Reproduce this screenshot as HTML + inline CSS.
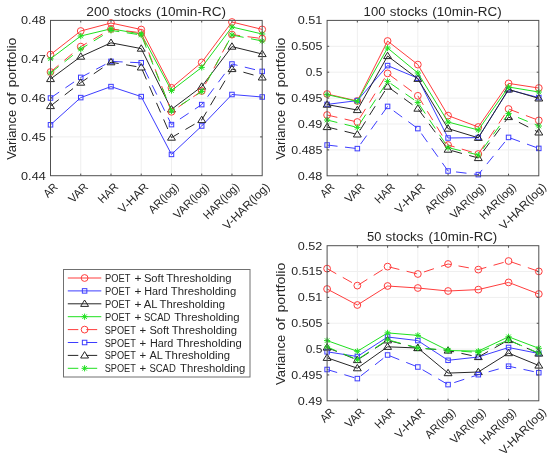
<!DOCTYPE html>
<html><head><meta charset="utf-8"><style>
html,body{margin:0;padding:0;background:#fff;}
svg{display:block;}
</style></head><body>
<svg width="550" height="459" viewBox="0 0 550 459">
<rect width="550" height="459" fill="#fff"/>
<g>
<path d="M80.74 20.4V175.7M110.99 20.4V175.7M141.23 20.4V175.7M171.47 20.4V175.7M201.71 20.4V175.7M231.96 20.4V175.7M50.5 136.88H262.2M50.5 98.05H262.2M50.5 59.22H262.2" stroke="#efefef" stroke-width="1" fill="none"/>
<path d="M50.5 54.6L80.74 31L110.99 23L141.23 29.5L171.47 87.8L201.71 62.4L231.96 22L262.2 29.4" fill="none" stroke="#ff3d3d"/>
<circle cx="50.5" cy="54.6" r="3.4" fill="none" stroke="#ff3d3d"/>
<circle cx="80.74" cy="31" r="3.4" fill="none" stroke="#ff3d3d"/>
<circle cx="110.99" cy="23" r="3.4" fill="none" stroke="#ff3d3d"/>
<circle cx="141.23" cy="29.5" r="3.4" fill="none" stroke="#ff3d3d"/>
<circle cx="171.47" cy="87.8" r="3.4" fill="none" stroke="#ff3d3d"/>
<circle cx="201.71" cy="62.4" r="3.4" fill="none" stroke="#ff3d3d"/>
<circle cx="231.96" cy="22" r="3.4" fill="none" stroke="#ff3d3d"/>
<circle cx="262.2" cy="29.4" r="3.4" fill="none" stroke="#ff3d3d"/>
<path d="M50.5 124.8L80.74 97.6L110.99 86.6L141.23 96.6L171.47 154.4L201.71 126L231.96 94.5L262.2 97" fill="none" stroke="#3d3dff"/>
<rect x="48.25" y="122.55" width="4.5" height="4.5" fill="none" stroke="#3d3dff"/>
<rect x="78.49" y="95.35" width="4.5" height="4.5" fill="none" stroke="#3d3dff"/>
<rect x="108.74" y="84.35" width="4.5" height="4.5" fill="none" stroke="#3d3dff"/>
<rect x="138.98" y="94.35" width="4.5" height="4.5" fill="none" stroke="#3d3dff"/>
<rect x="169.22" y="152.15" width="4.5" height="4.5" fill="none" stroke="#3d3dff"/>
<rect x="199.46" y="123.75" width="4.5" height="4.5" fill="none" stroke="#3d3dff"/>
<rect x="229.71" y="92.25" width="4.5" height="4.5" fill="none" stroke="#3d3dff"/>
<rect x="259.95" y="94.75" width="4.5" height="4.5" fill="none" stroke="#3d3dff"/>
<path d="M50.5 79L80.74 56.6L110.99 42.8L141.23 48.6L171.47 109.4L201.71 86.6L231.96 46.6L262.2 54" fill="none" stroke="#262626"/>
<path d="M50.5 75.2L54.45 81.6H46.55Z" fill="none" stroke="#262626"/>
<path d="M80.74 52.8L84.69 59.2H76.79Z" fill="none" stroke="#262626"/>
<path d="M110.99 39L114.94 45.4H107.04Z" fill="none" stroke="#262626"/>
<path d="M141.23 44.8L145.18 51.2H137.28Z" fill="none" stroke="#262626"/>
<path d="M171.47 105.6L175.42 112H167.52Z" fill="none" stroke="#262626"/>
<path d="M201.71 82.8L205.66 89.2H197.76Z" fill="none" stroke="#262626"/>
<path d="M231.96 42.8L235.91 49.2H228.01Z" fill="none" stroke="#262626"/>
<path d="M262.2 50.2L266.15 56.6H258.25Z" fill="none" stroke="#262626"/>
<path d="M50.5 58.8L80.74 36L110.99 28.8L141.23 34L171.47 90.6L201.71 67.4L231.96 27L262.2 34" fill="none" stroke="#1fe01f"/>
<path d="M47.4 58.8H53.6M50.5 55.7V61.9M48.25 56.55L52.75 61.05M48.25 61.05L52.75 56.55" fill="none" stroke="#1fe01f"/>
<path d="M77.64 36H83.84M80.74 32.9V39.1M78.49 33.75L82.99 38.25M78.49 38.25L82.99 33.75" fill="none" stroke="#1fe01f"/>
<path d="M107.89 28.8H114.09M110.99 25.7V31.9M108.74 26.55L113.24 31.05M108.74 31.05L113.24 26.55" fill="none" stroke="#1fe01f"/>
<path d="M138.13 34H144.33M141.23 30.9V37.1M138.98 31.75L143.48 36.25M138.98 36.25L143.48 31.75" fill="none" stroke="#1fe01f"/>
<path d="M168.37 90.6H174.57M171.47 87.5V93.7M169.22 88.35L173.72 92.85M169.22 92.85L173.72 88.35" fill="none" stroke="#1fe01f"/>
<path d="M198.61 67.4H204.81M201.71 64.3V70.5M199.46 65.15L203.96 69.65M199.46 69.65L203.96 65.15" fill="none" stroke="#1fe01f"/>
<path d="M228.86 27H235.06M231.96 23.9V30.1M229.71 24.75L234.21 29.25M229.71 29.25L234.21 24.75" fill="none" stroke="#1fe01f"/>
<path d="M259.1 34H265.3M262.2 30.9V37.1M259.95 31.75L264.45 36.25M259.95 36.25L264.45 31.75" fill="none" stroke="#1fe01f"/>
<path d="M50.5 72L80.74 46.6L110.99 29L141.23 32.8L171.47 111.8L201.71 91L231.96 34.6L262.2 38.6" fill="none" stroke="#ff3d3d" stroke-dasharray="10.5 7.5"/>
<circle cx="50.5" cy="72" r="3.4" fill="none" stroke="#ff3d3d"/>
<circle cx="80.74" cy="46.6" r="3.4" fill="none" stroke="#ff3d3d"/>
<circle cx="110.99" cy="29" r="3.4" fill="none" stroke="#ff3d3d"/>
<circle cx="141.23" cy="32.8" r="3.4" fill="none" stroke="#ff3d3d"/>
<circle cx="171.47" cy="111.8" r="3.4" fill="none" stroke="#ff3d3d"/>
<circle cx="201.71" cy="91" r="3.4" fill="none" stroke="#ff3d3d"/>
<circle cx="231.96" cy="34.6" r="3.4" fill="none" stroke="#ff3d3d"/>
<circle cx="262.2" cy="38.6" r="3.4" fill="none" stroke="#ff3d3d"/>
<path d="M50.5 98L80.74 77.4L110.99 61.4L141.23 62.8L171.47 124.6L201.71 104.6L231.96 64L262.2 71.4" fill="none" stroke="#3d3dff" stroke-dasharray="10.5 7.5"/>
<rect x="48.25" y="95.75" width="4.5" height="4.5" fill="none" stroke="#3d3dff"/>
<rect x="78.49" y="75.15" width="4.5" height="4.5" fill="none" stroke="#3d3dff"/>
<rect x="108.74" y="59.15" width="4.5" height="4.5" fill="none" stroke="#3d3dff"/>
<rect x="138.98" y="60.55" width="4.5" height="4.5" fill="none" stroke="#3d3dff"/>
<rect x="169.22" y="122.35" width="4.5" height="4.5" fill="none" stroke="#3d3dff"/>
<rect x="199.46" y="102.35" width="4.5" height="4.5" fill="none" stroke="#3d3dff"/>
<rect x="229.71" y="61.75" width="4.5" height="4.5" fill="none" stroke="#3d3dff"/>
<rect x="259.95" y="69.15" width="4.5" height="4.5" fill="none" stroke="#3d3dff"/>
<path d="M50.5 106L80.74 82.6L110.99 62.2L141.23 67.4L171.47 137.6L201.71 120L231.96 69L262.2 77.4" fill="none" stroke="#262626" stroke-dasharray="10.5 7.5"/>
<path d="M50.5 102.2L54.45 108.6H46.55Z" fill="none" stroke="#262626"/>
<path d="M80.74 78.8L84.69 85.2H76.79Z" fill="none" stroke="#262626"/>
<path d="M110.99 58.4L114.94 64.8H107.04Z" fill="none" stroke="#262626"/>
<path d="M141.23 63.6L145.18 70H137.28Z" fill="none" stroke="#262626"/>
<path d="M171.47 133.8L175.42 140.2H167.52Z" fill="none" stroke="#262626"/>
<path d="M201.71 116.2L205.66 122.6H197.76Z" fill="none" stroke="#262626"/>
<path d="M231.96 65.2L235.91 71.6H228.01Z" fill="none" stroke="#262626"/>
<path d="M262.2 73.6L266.15 80H258.25Z" fill="none" stroke="#262626"/>
<path d="M50.5 73L80.74 49L110.99 30.4L141.23 35L171.47 111L201.71 91.6L231.96 35L262.2 41" fill="none" stroke="#1fe01f" stroke-dasharray="10.5 7.5"/>
<path d="M47.4 73H53.6M50.5 69.9V76.1M48.25 70.75L52.75 75.25M48.25 75.25L52.75 70.75" fill="none" stroke="#1fe01f"/>
<path d="M77.64 49H83.84M80.74 45.9V52.1M78.49 46.75L82.99 51.25M78.49 51.25L82.99 46.75" fill="none" stroke="#1fe01f"/>
<path d="M107.89 30.4H114.09M110.99 27.3V33.5M108.74 28.15L113.24 32.65M108.74 32.65L113.24 28.15" fill="none" stroke="#1fe01f"/>
<path d="M138.13 35H144.33M141.23 31.9V38.1M138.98 32.75L143.48 37.25M138.98 37.25L143.48 32.75" fill="none" stroke="#1fe01f"/>
<path d="M168.37 111H174.57M171.47 107.9V114.1M169.22 108.75L173.72 113.25M169.22 113.25L173.72 108.75" fill="none" stroke="#1fe01f"/>
<path d="M198.61 91.6H204.81M201.71 88.5V94.7M199.46 89.35L203.96 93.85M199.46 93.85L203.96 89.35" fill="none" stroke="#1fe01f"/>
<path d="M228.86 35H235.06M231.96 31.9V38.1M229.71 32.75L234.21 37.25M229.71 37.25L234.21 32.75" fill="none" stroke="#1fe01f"/>
<path d="M259.1 41H265.3M262.2 37.9V44.1M259.95 38.75L264.45 43.25M259.95 43.25L264.45 38.75" fill="none" stroke="#1fe01f"/>
<path d="M80.74 175.7v-2.1M80.74 20.4v2.1M110.99 175.7v-2.1M110.99 20.4v2.1M141.23 175.7v-2.1M141.23 20.4v2.1M171.47 175.7v-2.1M171.47 20.4v2.1M201.71 175.7v-2.1M201.71 20.4v2.1M231.96 175.7v-2.1M231.96 20.4v2.1M50.5 136.88h2.1M262.2 136.88h-2.1M50.5 98.05h2.1M262.2 98.05h-2.1M50.5 59.22h2.1M262.2 59.22h-2.1" stroke="#505050" fill="none"/>
<rect x="50.5" y="20.4" width="211.7" height="155.3" fill="none" stroke="#505050"/>
<text x="45.7" y="179.5" text-anchor="end" font-size="10.5" textLength="24.6" lengthAdjust="spacingAndGlyphs" fill="#262626" font-family="Liberation Sans, Arial, sans-serif">0.44</text>
<text x="45.7" y="140.68" text-anchor="end" font-size="10.5" textLength="24.6" lengthAdjust="spacingAndGlyphs" fill="#262626" font-family="Liberation Sans, Arial, sans-serif">0.45</text>
<text x="45.7" y="101.85" text-anchor="end" font-size="10.5" textLength="24.6" lengthAdjust="spacingAndGlyphs" fill="#262626" font-family="Liberation Sans, Arial, sans-serif">0.46</text>
<text x="45.7" y="63.02" text-anchor="end" font-size="10.5" textLength="24.6" lengthAdjust="spacingAndGlyphs" fill="#262626" font-family="Liberation Sans, Arial, sans-serif">0.47</text>
<text x="45.7" y="24.2" text-anchor="end" font-size="10.5" textLength="24.6" lengthAdjust="spacingAndGlyphs" fill="#262626" font-family="Liberation Sans, Arial, sans-serif">0.48</text>
<text transform="translate(58.5,187.7) rotate(-45)" text-anchor="end" font-size="11.5" textLength="14.8" lengthAdjust="spacingAndGlyphs" fill="#262626" font-family="Liberation Sans, Arial, sans-serif">AR</text>
<text transform="translate(88.74,187.7) rotate(-45)" text-anchor="end" font-size="11.5" textLength="22.3" lengthAdjust="spacingAndGlyphs" fill="#262626" font-family="Liberation Sans, Arial, sans-serif">VAR</text>
<text transform="translate(118.99,187.7) rotate(-45)" text-anchor="end" font-size="11.5" textLength="23.2" lengthAdjust="spacingAndGlyphs" fill="#262626" font-family="Liberation Sans, Arial, sans-serif">HAR</text>
<text transform="translate(149.23,187.7) rotate(-45)" text-anchor="end" font-size="11.5" textLength="37.3" lengthAdjust="spacingAndGlyphs" fill="#262626" font-family="Liberation Sans, Arial, sans-serif">V-HAR</text>
<text transform="translate(179.47,187.7) rotate(-45)" text-anchor="end" font-size="11.5" textLength="37.5" lengthAdjust="spacingAndGlyphs" fill="#262626" font-family="Liberation Sans, Arial, sans-serif">AR(log)</text>
<text transform="translate(209.71,187.7) rotate(-45)" text-anchor="end" font-size="11.5" textLength="44.8" lengthAdjust="spacingAndGlyphs" fill="#262626" font-family="Liberation Sans, Arial, sans-serif">VAR(log)</text>
<text transform="translate(239.96,187.7) rotate(-45)" text-anchor="end" font-size="11.5" textLength="45.6" lengthAdjust="spacingAndGlyphs" fill="#262626" font-family="Liberation Sans, Arial, sans-serif">HAR(log)</text>
<text transform="translate(270.2,187.7) rotate(-45)" text-anchor="end" font-size="11.5" textLength="60.5" lengthAdjust="spacingAndGlyphs" fill="#262626" font-family="Liberation Sans, Arial, sans-serif">V-HAR(log)</text>
<text y="16" font-size="12" fill="#262626" font-family="Liberation Sans, Arial, sans-serif"><tspan x="86.3" textLength="23.1" lengthAdjust="spacingAndGlyphs">200</tspan> <tspan x="113.8" textLength="37.5" lengthAdjust="spacingAndGlyphs">stocks</tspan> <tspan x="156" textLength="70" lengthAdjust="spacingAndGlyphs">(10min-RC)</tspan></text>
<text transform="translate(16,159.8) rotate(-90)" font-size="12" fill="#262626" font-family="Liberation Sans, Arial, sans-serif"><tspan x="0" textLength="50" lengthAdjust="spacingAndGlyphs">Variance</tspan> <tspan x="54.7" textLength="12.4" lengthAdjust="spacingAndGlyphs">of</tspan> <tspan x="72.3" textLength="49.9" lengthAdjust="spacingAndGlyphs">portfolio</tspan></text>
<path d="M357.34 20.4V175.8M387.59 20.4V175.8M417.83 20.4V175.8M448.07 20.4V175.8M478.31 20.4V175.8M508.56 20.4V175.8M327.1 149.9H538.8M327.1 124H538.8M327.1 98.1H538.8M327.1 72.2H538.8M327.1 46.3H538.8" stroke="#efefef" stroke-width="1" fill="none"/>
<path d="M327.1 94L357.34 101L387.59 41L417.83 64.6L448.07 115.6L478.31 127L508.56 83.4L538.8 88" fill="none" stroke="#ff3d3d"/>
<circle cx="327.1" cy="94" r="3.4" fill="none" stroke="#ff3d3d"/>
<circle cx="357.34" cy="101" r="3.4" fill="none" stroke="#ff3d3d"/>
<circle cx="387.59" cy="41" r="3.4" fill="none" stroke="#ff3d3d"/>
<circle cx="417.83" cy="64.6" r="3.4" fill="none" stroke="#ff3d3d"/>
<circle cx="448.07" cy="115.6" r="3.4" fill="none" stroke="#ff3d3d"/>
<circle cx="478.31" cy="127" r="3.4" fill="none" stroke="#ff3d3d"/>
<circle cx="508.56" cy="83.4" r="3.4" fill="none" stroke="#ff3d3d"/>
<circle cx="538.8" cy="88" r="3.4" fill="none" stroke="#ff3d3d"/>
<path d="M327.1 104.4L357.34 100.6L387.59 65.6L417.83 78.2L448.07 138L478.31 137.6L508.56 89.8L538.8 97.6" fill="none" stroke="#3d3dff"/>
<rect x="324.85" y="102.15" width="4.5" height="4.5" fill="none" stroke="#3d3dff"/>
<rect x="355.09" y="98.35" width="4.5" height="4.5" fill="none" stroke="#3d3dff"/>
<rect x="385.34" y="63.35" width="4.5" height="4.5" fill="none" stroke="#3d3dff"/>
<rect x="415.58" y="75.95" width="4.5" height="4.5" fill="none" stroke="#3d3dff"/>
<rect x="445.82" y="135.75" width="4.5" height="4.5" fill="none" stroke="#3d3dff"/>
<rect x="476.06" y="135.35" width="4.5" height="4.5" fill="none" stroke="#3d3dff"/>
<rect x="506.31" y="87.55" width="4.5" height="4.5" fill="none" stroke="#3d3dff"/>
<rect x="536.55" y="95.35" width="4.5" height="4.5" fill="none" stroke="#3d3dff"/>
<path d="M327.1 104.6L357.34 110L387.59 56L417.83 78.8L448.07 128.6L478.31 137.8L508.56 89.4L538.8 98.4" fill="none" stroke="#262626"/>
<path d="M327.1 100.8L331.05 107.2H323.15Z" fill="none" stroke="#262626"/>
<path d="M357.34 106.2L361.29 112.6H353.39Z" fill="none" stroke="#262626"/>
<path d="M387.59 52.2L391.54 58.6H383.64Z" fill="none" stroke="#262626"/>
<path d="M417.83 75L421.78 81.4H413.88Z" fill="none" stroke="#262626"/>
<path d="M448.07 124.8L452.02 131.2H444.12Z" fill="none" stroke="#262626"/>
<path d="M478.31 134L482.26 140.4H474.36Z" fill="none" stroke="#262626"/>
<path d="M508.56 85.6L512.51 92H504.61Z" fill="none" stroke="#262626"/>
<path d="M538.8 94.6L542.75 101H534.85Z" fill="none" stroke="#262626"/>
<path d="M327.1 94.6L357.34 101.4L387.59 48L417.83 73L448.07 122L478.31 130L508.56 87L538.8 92" fill="none" stroke="#1fe01f"/>
<path d="M324 94.6H330.2M327.1 91.5V97.7M324.85 92.35L329.35 96.85M324.85 96.85L329.35 92.35" fill="none" stroke="#1fe01f"/>
<path d="M354.24 101.4H360.44M357.34 98.3V104.5M355.09 99.15L359.59 103.65M355.09 103.65L359.59 99.15" fill="none" stroke="#1fe01f"/>
<path d="M384.49 48H390.69M387.59 44.9V51.1M385.34 45.75L389.84 50.25M385.34 50.25L389.84 45.75" fill="none" stroke="#1fe01f"/>
<path d="M414.73 73H420.93M417.83 69.9V76.1M415.58 70.75L420.08 75.25M415.58 75.25L420.08 70.75" fill="none" stroke="#1fe01f"/>
<path d="M444.97 122H451.17M448.07 118.9V125.1M445.82 119.75L450.32 124.25M445.82 124.25L450.32 119.75" fill="none" stroke="#1fe01f"/>
<path d="M475.21 130H481.41M478.31 126.9V133.1M476.06 127.75L480.56 132.25M476.06 132.25L480.56 127.75" fill="none" stroke="#1fe01f"/>
<path d="M505.46 87H511.66M508.56 83.9V90.1M506.31 84.75L510.81 89.25M506.31 89.25L510.81 84.75" fill="none" stroke="#1fe01f"/>
<path d="M535.7 92H541.9M538.8 88.9V95.1M536.55 89.75L541.05 94.25M536.55 94.25L541.05 89.75" fill="none" stroke="#1fe01f"/>
<path d="M327.1 115L357.34 122L387.59 73.4L417.83 95.8L448.07 145L478.31 154L508.56 109L538.8 120.4" fill="none" stroke="#ff3d3d" stroke-dasharray="10.5 7.5"/>
<circle cx="327.1" cy="115" r="3.4" fill="none" stroke="#ff3d3d"/>
<circle cx="357.34" cy="122" r="3.4" fill="none" stroke="#ff3d3d"/>
<circle cx="387.59" cy="73.4" r="3.4" fill="none" stroke="#ff3d3d"/>
<circle cx="417.83" cy="95.8" r="3.4" fill="none" stroke="#ff3d3d"/>
<circle cx="448.07" cy="145" r="3.4" fill="none" stroke="#ff3d3d"/>
<circle cx="478.31" cy="154" r="3.4" fill="none" stroke="#ff3d3d"/>
<circle cx="508.56" cy="109" r="3.4" fill="none" stroke="#ff3d3d"/>
<circle cx="538.8" cy="120.4" r="3.4" fill="none" stroke="#ff3d3d"/>
<path d="M327.1 145L357.34 148.6L387.59 106.4L417.83 128.6L448.07 171L478.31 174.6L508.56 137.4L538.8 148.4" fill="none" stroke="#3d3dff" stroke-dasharray="10.5 7.5"/>
<rect x="324.85" y="142.75" width="4.5" height="4.5" fill="none" stroke="#3d3dff"/>
<rect x="355.09" y="146.35" width="4.5" height="4.5" fill="none" stroke="#3d3dff"/>
<rect x="385.34" y="104.15" width="4.5" height="4.5" fill="none" stroke="#3d3dff"/>
<rect x="415.58" y="126.35" width="4.5" height="4.5" fill="none" stroke="#3d3dff"/>
<rect x="445.82" y="168.75" width="4.5" height="4.5" fill="none" stroke="#3d3dff"/>
<rect x="476.06" y="172.35" width="4.5" height="4.5" fill="none" stroke="#3d3dff"/>
<rect x="506.31" y="135.15" width="4.5" height="4.5" fill="none" stroke="#3d3dff"/>
<rect x="536.55" y="146.15" width="4.5" height="4.5" fill="none" stroke="#3d3dff"/>
<path d="M327.1 127L357.34 134.4L387.59 86.6L417.83 108.6L448.07 149.6L478.31 158L508.56 117L538.8 132.4" fill="none" stroke="#262626" stroke-dasharray="10.5 7.5"/>
<path d="M327.1 123.2L331.05 129.6H323.15Z" fill="none" stroke="#262626"/>
<path d="M357.34 130.6L361.29 137H353.39Z" fill="none" stroke="#262626"/>
<path d="M387.59 82.8L391.54 89.2H383.64Z" fill="none" stroke="#262626"/>
<path d="M417.83 104.8L421.78 111.2H413.88Z" fill="none" stroke="#262626"/>
<path d="M448.07 145.8L452.02 152.2H444.12Z" fill="none" stroke="#262626"/>
<path d="M478.31 154.2L482.26 160.6H474.36Z" fill="none" stroke="#262626"/>
<path d="M508.56 113.2L512.51 119.6H504.61Z" fill="none" stroke="#262626"/>
<path d="M538.8 128.6L542.75 135H534.85Z" fill="none" stroke="#262626"/>
<path d="M327.1 120L357.34 127.4L387.59 81.4L417.83 102.4L448.07 147.6L478.31 155L508.56 113.6L538.8 126" fill="none" stroke="#1fe01f" stroke-dasharray="10.5 7.5"/>
<path d="M324 120H330.2M327.1 116.9V123.1M324.85 117.75L329.35 122.25M324.85 122.25L329.35 117.75" fill="none" stroke="#1fe01f"/>
<path d="M354.24 127.4H360.44M357.34 124.3V130.5M355.09 125.15L359.59 129.65M355.09 129.65L359.59 125.15" fill="none" stroke="#1fe01f"/>
<path d="M384.49 81.4H390.69M387.59 78.3V84.5M385.34 79.15L389.84 83.65M385.34 83.65L389.84 79.15" fill="none" stroke="#1fe01f"/>
<path d="M414.73 102.4H420.93M417.83 99.3V105.5M415.58 100.15L420.08 104.65M415.58 104.65L420.08 100.15" fill="none" stroke="#1fe01f"/>
<path d="M444.97 147.6H451.17M448.07 144.5V150.7M445.82 145.35L450.32 149.85M445.82 149.85L450.32 145.35" fill="none" stroke="#1fe01f"/>
<path d="M475.21 155H481.41M478.31 151.9V158.1M476.06 152.75L480.56 157.25M476.06 157.25L480.56 152.75" fill="none" stroke="#1fe01f"/>
<path d="M505.46 113.6H511.66M508.56 110.5V116.7M506.31 111.35L510.81 115.85M506.31 115.85L510.81 111.35" fill="none" stroke="#1fe01f"/>
<path d="M535.7 126H541.9M538.8 122.9V129.1M536.55 123.75L541.05 128.25M536.55 128.25L541.05 123.75" fill="none" stroke="#1fe01f"/>
<path d="M357.34 175.8v-2.1M357.34 20.4v2.1M387.59 175.8v-2.1M387.59 20.4v2.1M417.83 175.8v-2.1M417.83 20.4v2.1M448.07 175.8v-2.1M448.07 20.4v2.1M478.31 175.8v-2.1M478.31 20.4v2.1M508.56 175.8v-2.1M508.56 20.4v2.1M327.1 149.9h2.1M538.8 149.9h-2.1M327.1 124h2.1M538.8 124h-2.1M327.1 98.1h2.1M538.8 98.1h-2.1M327.1 72.2h2.1M538.8 72.2h-2.1M327.1 46.3h2.1M538.8 46.3h-2.1" stroke="#505050" fill="none"/>
<rect x="327.1" y="20.4" width="211.7" height="155.4" fill="none" stroke="#505050"/>
<text x="322.3" y="179.6" text-anchor="end" font-size="10.5" textLength="24.6" lengthAdjust="spacingAndGlyphs" fill="#262626" font-family="Liberation Sans, Arial, sans-serif">0.48</text>
<text x="322.3" y="153.7" text-anchor="end" font-size="10.5" textLength="31" lengthAdjust="spacingAndGlyphs" fill="#262626" font-family="Liberation Sans, Arial, sans-serif">0.485</text>
<text x="322.3" y="127.8" text-anchor="end" font-size="10.5" textLength="24.6" lengthAdjust="spacingAndGlyphs" fill="#262626" font-family="Liberation Sans, Arial, sans-serif">0.49</text>
<text x="322.3" y="101.9" text-anchor="end" font-size="10.5" textLength="31" lengthAdjust="spacingAndGlyphs" fill="#262626" font-family="Liberation Sans, Arial, sans-serif">0.495</text>
<text x="322.3" y="76" text-anchor="end" font-size="10.5" textLength="16.6" lengthAdjust="spacingAndGlyphs" fill="#262626" font-family="Liberation Sans, Arial, sans-serif">0.5</text>
<text x="322.3" y="50.1" text-anchor="end" font-size="10.5" textLength="31" lengthAdjust="spacingAndGlyphs" fill="#262626" font-family="Liberation Sans, Arial, sans-serif">0.505</text>
<text x="322.3" y="24.2" text-anchor="end" font-size="10.5" textLength="24.6" lengthAdjust="spacingAndGlyphs" fill="#262626" font-family="Liberation Sans, Arial, sans-serif">0.51</text>
<text transform="translate(335.1,187.8) rotate(-45)" text-anchor="end" font-size="11.5" textLength="14.8" lengthAdjust="spacingAndGlyphs" fill="#262626" font-family="Liberation Sans, Arial, sans-serif">AR</text>
<text transform="translate(365.34,187.8) rotate(-45)" text-anchor="end" font-size="11.5" textLength="22.3" lengthAdjust="spacingAndGlyphs" fill="#262626" font-family="Liberation Sans, Arial, sans-serif">VAR</text>
<text transform="translate(395.59,187.8) rotate(-45)" text-anchor="end" font-size="11.5" textLength="23.2" lengthAdjust="spacingAndGlyphs" fill="#262626" font-family="Liberation Sans, Arial, sans-serif">HAR</text>
<text transform="translate(425.83,187.8) rotate(-45)" text-anchor="end" font-size="11.5" textLength="37.3" lengthAdjust="spacingAndGlyphs" fill="#262626" font-family="Liberation Sans, Arial, sans-serif">V-HAR</text>
<text transform="translate(456.07,187.8) rotate(-45)" text-anchor="end" font-size="11.5" textLength="37.5" lengthAdjust="spacingAndGlyphs" fill="#262626" font-family="Liberation Sans, Arial, sans-serif">AR(log)</text>
<text transform="translate(486.31,187.8) rotate(-45)" text-anchor="end" font-size="11.5" textLength="44.8" lengthAdjust="spacingAndGlyphs" fill="#262626" font-family="Liberation Sans, Arial, sans-serif">VAR(log)</text>
<text transform="translate(516.56,187.8) rotate(-45)" text-anchor="end" font-size="11.5" textLength="45.6" lengthAdjust="spacingAndGlyphs" fill="#262626" font-family="Liberation Sans, Arial, sans-serif">HAR(log)</text>
<text transform="translate(546.8,187.8) rotate(-45)" text-anchor="end" font-size="11.5" textLength="60.5" lengthAdjust="spacingAndGlyphs" fill="#262626" font-family="Liberation Sans, Arial, sans-serif">V-HAR(log)</text>
<text y="16" font-size="12" fill="#262626" font-family="Liberation Sans, Arial, sans-serif"><tspan x="363.6" textLength="21.9" lengthAdjust="spacingAndGlyphs">100</tspan> <tspan x="389.8" textLength="37.9" lengthAdjust="spacingAndGlyphs">stocks</tspan> <tspan x="432.3" textLength="69.4" lengthAdjust="spacingAndGlyphs">(10min-RC)</tspan></text>
<text transform="translate(284.9,159.8) rotate(-90)" font-size="12" fill="#262626" font-family="Liberation Sans, Arial, sans-serif"><tspan x="0" textLength="50" lengthAdjust="spacingAndGlyphs">Variance</tspan> <tspan x="54.7" textLength="12.4" lengthAdjust="spacingAndGlyphs">of</tspan> <tspan x="72.3" textLength="49.9" lengthAdjust="spacingAndGlyphs">portfolio</tspan></text>
<path d="M357.34 245.7V400.8M387.59 245.7V400.8M417.83 245.7V400.8M448.07 245.7V400.8M478.31 245.7V400.8M508.56 245.7V400.8M327.1 374.95H538.8M327.1 349.1H538.8M327.1 323.25H538.8M327.1 297.4H538.8M327.1 271.55H538.8" stroke="#efefef" stroke-width="1" fill="none"/>
<path d="M327.1 289L357.34 305L387.59 286L417.83 288L448.07 291L478.31 289.6L508.56 282.4L538.8 294" fill="none" stroke="#ff3d3d"/>
<circle cx="327.1" cy="289" r="3.4" fill="none" stroke="#ff3d3d"/>
<circle cx="357.34" cy="305" r="3.4" fill="none" stroke="#ff3d3d"/>
<circle cx="387.59" cy="286" r="3.4" fill="none" stroke="#ff3d3d"/>
<circle cx="417.83" cy="288" r="3.4" fill="none" stroke="#ff3d3d"/>
<circle cx="448.07" cy="291" r="3.4" fill="none" stroke="#ff3d3d"/>
<circle cx="478.31" cy="289.6" r="3.4" fill="none" stroke="#ff3d3d"/>
<circle cx="508.56" cy="282.4" r="3.4" fill="none" stroke="#ff3d3d"/>
<circle cx="538.8" cy="294" r="3.4" fill="none" stroke="#ff3d3d"/>
<path d="M327.1 351.8L357.34 356.5L387.59 337L417.83 340.6L448.07 360.3L478.31 357L508.56 347.5L538.8 353.5" fill="none" stroke="#3d3dff"/>
<rect x="324.85" y="349.55" width="4.5" height="4.5" fill="none" stroke="#3d3dff"/>
<rect x="355.09" y="354.25" width="4.5" height="4.5" fill="none" stroke="#3d3dff"/>
<rect x="385.34" y="334.75" width="4.5" height="4.5" fill="none" stroke="#3d3dff"/>
<rect x="415.58" y="338.35" width="4.5" height="4.5" fill="none" stroke="#3d3dff"/>
<rect x="445.82" y="358.05" width="4.5" height="4.5" fill="none" stroke="#3d3dff"/>
<rect x="476.06" y="354.75" width="4.5" height="4.5" fill="none" stroke="#3d3dff"/>
<rect x="506.31" y="345.25" width="4.5" height="4.5" fill="none" stroke="#3d3dff"/>
<rect x="536.55" y="351.25" width="4.5" height="4.5" fill="none" stroke="#3d3dff"/>
<path d="M327.1 357.8L357.34 368.2L387.59 346.8L417.83 348L448.07 373.1L478.31 372L508.56 353.1L538.8 365.5" fill="none" stroke="#262626"/>
<path d="M327.1 354L331.05 360.4H323.15Z" fill="none" stroke="#262626"/>
<path d="M357.34 364.4L361.29 370.8H353.39Z" fill="none" stroke="#262626"/>
<path d="M387.59 343L391.54 349.4H383.64Z" fill="none" stroke="#262626"/>
<path d="M417.83 344.2L421.78 350.6H413.88Z" fill="none" stroke="#262626"/>
<path d="M448.07 369.3L452.02 375.7H444.12Z" fill="none" stroke="#262626"/>
<path d="M478.31 368.2L482.26 374.6H474.36Z" fill="none" stroke="#262626"/>
<path d="M508.56 349.3L512.51 355.7H504.61Z" fill="none" stroke="#262626"/>
<path d="M538.8 361.7L542.75 368.1H534.85Z" fill="none" stroke="#262626"/>
<path d="M327.1 340.6L357.34 351.3L387.59 332.9L417.83 335.4L448.07 350.5L478.31 351.1L508.56 336.8L538.8 348.3" fill="none" stroke="#1fe01f"/>
<path d="M324 340.6H330.2M327.1 337.5V343.7M324.85 338.35L329.35 342.85M324.85 342.85L329.35 338.35" fill="none" stroke="#1fe01f"/>
<path d="M354.24 351.3H360.44M357.34 348.2V354.4M355.09 349.05L359.59 353.55M355.09 353.55L359.59 349.05" fill="none" stroke="#1fe01f"/>
<path d="M384.49 332.9H390.69M387.59 329.8V336M385.34 330.65L389.84 335.15M385.34 335.15L389.84 330.65" fill="none" stroke="#1fe01f"/>
<path d="M414.73 335.4H420.93M417.83 332.3V338.5M415.58 333.15L420.08 337.65M415.58 337.65L420.08 333.15" fill="none" stroke="#1fe01f"/>
<path d="M444.97 350.5H451.17M448.07 347.4V353.6M445.82 348.25L450.32 352.75M445.82 352.75L450.32 348.25" fill="none" stroke="#1fe01f"/>
<path d="M475.21 351.1H481.41M478.31 348V354.2M476.06 348.85L480.56 353.35M476.06 353.35L480.56 348.85" fill="none" stroke="#1fe01f"/>
<path d="M505.46 336.8H511.66M508.56 333.7V339.9M506.31 334.55L510.81 339.05M506.31 339.05L510.81 334.55" fill="none" stroke="#1fe01f"/>
<path d="M535.7 348.3H541.9M538.8 345.2V351.4M536.55 346.05L541.05 350.55M536.55 350.55L541.05 346.05" fill="none" stroke="#1fe01f"/>
<path d="M327.1 268.6L357.34 285.6L387.59 266.6L417.83 274L448.07 264L478.31 269.6L508.56 261L538.8 271.4" fill="none" stroke="#ff3d3d" stroke-dasharray="10.5 7.5"/>
<circle cx="327.1" cy="268.6" r="3.4" fill="none" stroke="#ff3d3d"/>
<circle cx="357.34" cy="285.6" r="3.4" fill="none" stroke="#ff3d3d"/>
<circle cx="387.59" cy="266.6" r="3.4" fill="none" stroke="#ff3d3d"/>
<circle cx="417.83" cy="274" r="3.4" fill="none" stroke="#ff3d3d"/>
<circle cx="448.07" cy="264" r="3.4" fill="none" stroke="#ff3d3d"/>
<circle cx="478.31" cy="269.6" r="3.4" fill="none" stroke="#ff3d3d"/>
<circle cx="508.56" cy="261" r="3.4" fill="none" stroke="#ff3d3d"/>
<circle cx="538.8" cy="271.4" r="3.4" fill="none" stroke="#ff3d3d"/>
<path d="M327.1 369.5L357.34 378.6L387.59 355L417.83 367L448.07 384.6L478.31 374.7L508.56 366.2L538.8 372.7" fill="none" stroke="#3d3dff" stroke-dasharray="10.5 7.5"/>
<rect x="324.85" y="367.25" width="4.5" height="4.5" fill="none" stroke="#3d3dff"/>
<rect x="355.09" y="376.35" width="4.5" height="4.5" fill="none" stroke="#3d3dff"/>
<rect x="385.34" y="352.75" width="4.5" height="4.5" fill="none" stroke="#3d3dff"/>
<rect x="415.58" y="364.75" width="4.5" height="4.5" fill="none" stroke="#3d3dff"/>
<rect x="445.82" y="382.35" width="4.5" height="4.5" fill="none" stroke="#3d3dff"/>
<rect x="476.06" y="372.45" width="4.5" height="4.5" fill="none" stroke="#3d3dff"/>
<rect x="506.31" y="363.95" width="4.5" height="4.5" fill="none" stroke="#3d3dff"/>
<rect x="536.55" y="370.45" width="4.5" height="4.5" fill="none" stroke="#3d3dff"/>
<path d="M327.1 347.5L357.34 360L387.59 340.3L417.83 348L448.07 350.5L478.31 357L508.56 340L538.8 353.5" fill="none" stroke="#262626" stroke-dasharray="10.5 7.5"/>
<path d="M327.1 343.7L331.05 350.1H323.15Z" fill="none" stroke="#262626"/>
<path d="M357.34 356.2L361.29 362.6H353.39Z" fill="none" stroke="#262626"/>
<path d="M387.59 336.5L391.54 342.9H383.64Z" fill="none" stroke="#262626"/>
<path d="M417.83 344.2L421.78 350.6H413.88Z" fill="none" stroke="#262626"/>
<path d="M448.07 346.7L452.02 353.1H444.12Z" fill="none" stroke="#262626"/>
<path d="M478.31 353.2L482.26 359.6H474.36Z" fill="none" stroke="#262626"/>
<path d="M508.56 336.2L512.51 342.6H504.61Z" fill="none" stroke="#262626"/>
<path d="M538.8 349.7L542.75 356.1H534.85Z" fill="none" stroke="#262626"/>
<path d="M327.1 347L357.34 359.6L387.59 339.7L417.83 348L448.07 350.2L478.31 352.5L508.56 340L538.8 353.2" fill="none" stroke="#1fe01f" stroke-dasharray="10.5 7.5"/>
<path d="M324 347H330.2M327.1 343.9V350.1M324.85 344.75L329.35 349.25M324.85 349.25L329.35 344.75" fill="none" stroke="#1fe01f"/>
<path d="M354.24 359.6H360.44M357.34 356.5V362.7M355.09 357.35L359.59 361.85M355.09 361.85L359.59 357.35" fill="none" stroke="#1fe01f"/>
<path d="M384.49 339.7H390.69M387.59 336.6V342.8M385.34 337.45L389.84 341.95M385.34 341.95L389.84 337.45" fill="none" stroke="#1fe01f"/>
<path d="M414.73 348H420.93M417.83 344.9V351.1M415.58 345.75L420.08 350.25M415.58 350.25L420.08 345.75" fill="none" stroke="#1fe01f"/>
<path d="M444.97 350.2H451.17M448.07 347.1V353.3M445.82 347.95L450.32 352.45M445.82 352.45L450.32 347.95" fill="none" stroke="#1fe01f"/>
<path d="M475.21 352.5H481.41M478.31 349.4V355.6M476.06 350.25L480.56 354.75M476.06 354.75L480.56 350.25" fill="none" stroke="#1fe01f"/>
<path d="M505.46 340H511.66M508.56 336.9V343.1M506.31 337.75L510.81 342.25M506.31 342.25L510.81 337.75" fill="none" stroke="#1fe01f"/>
<path d="M535.7 353.2H541.9M538.8 350.1V356.3M536.55 350.95L541.05 355.45M536.55 355.45L541.05 350.95" fill="none" stroke="#1fe01f"/>
<path d="M357.34 400.8v-2.1M357.34 245.7v2.1M387.59 400.8v-2.1M387.59 245.7v2.1M417.83 400.8v-2.1M417.83 245.7v2.1M448.07 400.8v-2.1M448.07 245.7v2.1M478.31 400.8v-2.1M478.31 245.7v2.1M508.56 400.8v-2.1M508.56 245.7v2.1M327.1 374.95h2.1M538.8 374.95h-2.1M327.1 349.1h2.1M538.8 349.1h-2.1M327.1 323.25h2.1M538.8 323.25h-2.1M327.1 297.4h2.1M538.8 297.4h-2.1M327.1 271.55h2.1M538.8 271.55h-2.1" stroke="#505050" fill="none"/>
<rect x="327.1" y="245.7" width="211.7" height="155.1" fill="none" stroke="#505050"/>
<text x="322.3" y="404.6" text-anchor="end" font-size="10.5" textLength="24.6" lengthAdjust="spacingAndGlyphs" fill="#262626" font-family="Liberation Sans, Arial, sans-serif">0.49</text>
<text x="322.3" y="378.75" text-anchor="end" font-size="10.5" textLength="31" lengthAdjust="spacingAndGlyphs" fill="#262626" font-family="Liberation Sans, Arial, sans-serif">0.495</text>
<text x="322.3" y="352.9" text-anchor="end" font-size="10.5" textLength="16.6" lengthAdjust="spacingAndGlyphs" fill="#262626" font-family="Liberation Sans, Arial, sans-serif">0.5</text>
<text x="322.3" y="327.05" text-anchor="end" font-size="10.5" textLength="31" lengthAdjust="spacingAndGlyphs" fill="#262626" font-family="Liberation Sans, Arial, sans-serif">0.505</text>
<text x="322.3" y="301.2" text-anchor="end" font-size="10.5" textLength="24.6" lengthAdjust="spacingAndGlyphs" fill="#262626" font-family="Liberation Sans, Arial, sans-serif">0.51</text>
<text x="322.3" y="275.35" text-anchor="end" font-size="10.5" textLength="31" lengthAdjust="spacingAndGlyphs" fill="#262626" font-family="Liberation Sans, Arial, sans-serif">0.515</text>
<text x="322.3" y="249.5" text-anchor="end" font-size="10.5" textLength="24.6" lengthAdjust="spacingAndGlyphs" fill="#262626" font-family="Liberation Sans, Arial, sans-serif">0.52</text>
<text transform="translate(335.1,412.8) rotate(-45)" text-anchor="end" font-size="11.5" textLength="14.8" lengthAdjust="spacingAndGlyphs" fill="#262626" font-family="Liberation Sans, Arial, sans-serif">AR</text>
<text transform="translate(365.34,412.8) rotate(-45)" text-anchor="end" font-size="11.5" textLength="22.3" lengthAdjust="spacingAndGlyphs" fill="#262626" font-family="Liberation Sans, Arial, sans-serif">VAR</text>
<text transform="translate(395.59,412.8) rotate(-45)" text-anchor="end" font-size="11.5" textLength="23.2" lengthAdjust="spacingAndGlyphs" fill="#262626" font-family="Liberation Sans, Arial, sans-serif">HAR</text>
<text transform="translate(425.83,412.8) rotate(-45)" text-anchor="end" font-size="11.5" textLength="37.3" lengthAdjust="spacingAndGlyphs" fill="#262626" font-family="Liberation Sans, Arial, sans-serif">V-HAR</text>
<text transform="translate(456.07,412.8) rotate(-45)" text-anchor="end" font-size="11.5" textLength="37.5" lengthAdjust="spacingAndGlyphs" fill="#262626" font-family="Liberation Sans, Arial, sans-serif">AR(log)</text>
<text transform="translate(486.31,412.8) rotate(-45)" text-anchor="end" font-size="11.5" textLength="44.8" lengthAdjust="spacingAndGlyphs" fill="#262626" font-family="Liberation Sans, Arial, sans-serif">VAR(log)</text>
<text transform="translate(516.56,412.8) rotate(-45)" text-anchor="end" font-size="11.5" textLength="45.6" lengthAdjust="spacingAndGlyphs" fill="#262626" font-family="Liberation Sans, Arial, sans-serif">HAR(log)</text>
<text transform="translate(546.8,412.8) rotate(-45)" text-anchor="end" font-size="11.5" textLength="60.5" lengthAdjust="spacingAndGlyphs" fill="#262626" font-family="Liberation Sans, Arial, sans-serif">V-HAR(log)</text>
<text y="241.3" font-size="12" fill="#262626" font-family="Liberation Sans, Arial, sans-serif"><tspan x="367.1" textLength="14.4" lengthAdjust="spacingAndGlyphs">50</tspan> <tspan x="385.6" textLength="37.8" lengthAdjust="spacingAndGlyphs">stocks</tspan> <tspan x="428.5" textLength="68.8" lengthAdjust="spacingAndGlyphs">(10min-RC)</tspan></text>
<text transform="translate(284.9,384.9) rotate(-90)" font-size="12" fill="#262626" font-family="Liberation Sans, Arial, sans-serif"><tspan x="0" textLength="50" lengthAdjust="spacingAndGlyphs">Variance</tspan> <tspan x="54.7" textLength="12.4" lengthAdjust="spacingAndGlyphs">of</tspan> <tspan x="72.3" textLength="49.9" lengthAdjust="spacingAndGlyphs">portfolio</tspan></text>
<rect x="63.5" y="269.5" width="186.5" height="107.5" fill="#fff" stroke="#707070"/>
<path d="M67.8 278H101.3" stroke="#ff3d3d" fill="none"/>
<circle cx="84.6" cy="278" r="3.4" fill="none" stroke="#ff3d3d"/>
<text y="282" font-size="10" fill="#262626" font-family="Liberation Sans, Arial, sans-serif"><tspan x="105.1" textLength="25.3" lengthAdjust="spacingAndGlyphs">POET</tspan> <tspan x="134.5" textLength="7" lengthAdjust="spacingAndGlyphs">+</tspan> <tspan x="143.9" textLength="19.9" lengthAdjust="spacingAndGlyphs">Soft</tspan> <tspan x="166.2" textLength="65.4" lengthAdjust="spacingAndGlyphs">Thresholding</tspan></text>
<path d="M67.8 290.9H101.3" stroke="#3d3dff" fill="none"/>
<rect x="82.35" y="288.65" width="4.5" height="4.5" fill="none" stroke="#3d3dff"/>
<text y="294.9" font-size="10" fill="#262626" font-family="Liberation Sans, Arial, sans-serif"><tspan x="105.1" textLength="25.3" lengthAdjust="spacingAndGlyphs">POET</tspan> <tspan x="134.5" textLength="7" lengthAdjust="spacingAndGlyphs">+</tspan> <tspan x="144.3" textLength="23.4" lengthAdjust="spacingAndGlyphs">Hard</tspan> <tspan x="170.8" textLength="65.4" lengthAdjust="spacingAndGlyphs">Thresholding</tspan></text>
<path d="M67.8 303.8H101.3" stroke="#262626" fill="none"/>
<path d="M84.6 300L88.55 306.4H80.65Z" fill="none" stroke="#262626"/>
<text y="307.8" font-size="10" fill="#262626" font-family="Liberation Sans, Arial, sans-serif"><tspan x="105.1" textLength="25.3" lengthAdjust="spacingAndGlyphs">POET</tspan> <tspan x="134.5" textLength="7" lengthAdjust="spacingAndGlyphs">+</tspan> <tspan x="143.7" textLength="13.3" lengthAdjust="spacingAndGlyphs">AL</tspan> <tspan x="159.6" textLength="65.4" lengthAdjust="spacingAndGlyphs">Thresholding</tspan></text>
<path d="M67.8 316.7H101.3" stroke="#1fe01f" fill="none"/>
<path d="M81.5 316.7H87.7M84.6 313.6V319.8M82.35 314.45L86.85 318.95M82.35 318.95L86.85 314.45" fill="none" stroke="#1fe01f"/>
<text y="320.7" font-size="10" fill="#262626" font-family="Liberation Sans, Arial, sans-serif"><tspan x="105.1" textLength="25.3" lengthAdjust="spacingAndGlyphs">POET</tspan> <tspan x="134.5" textLength="7" lengthAdjust="spacingAndGlyphs">+</tspan> <tspan x="144" textLength="26.5" lengthAdjust="spacingAndGlyphs">SCAD</tspan> <tspan x="174.2" textLength="65.4" lengthAdjust="spacingAndGlyphs">Thresholding</tspan></text>
<path d="M67.8 329.6H78.3M86.3 329.6H97.2" stroke="#ff3d3d" fill="none"/>
<circle cx="84.6" cy="329.6" r="3.4" fill="none" stroke="#ff3d3d"/>
<text y="333.6" font-size="10" fill="#262626" font-family="Liberation Sans, Arial, sans-serif"><tspan x="104.7" textLength="31" lengthAdjust="spacingAndGlyphs">SPOET</tspan> <tspan x="139.6" textLength="6.7" lengthAdjust="spacingAndGlyphs">+</tspan> <tspan x="149.4" textLength="19.8" lengthAdjust="spacingAndGlyphs">Soft</tspan> <tspan x="171.7" textLength="65.4" lengthAdjust="spacingAndGlyphs">Thresholding</tspan></text>
<path d="M67.8 342.5H78.3M86.3 342.5H97.2" stroke="#3d3dff" fill="none"/>
<rect x="82.35" y="340.25" width="4.5" height="4.5" fill="none" stroke="#3d3dff"/>
<text y="346.5" font-size="10" fill="#262626" font-family="Liberation Sans, Arial, sans-serif"><tspan x="104.7" textLength="31" lengthAdjust="spacingAndGlyphs">SPOET</tspan> <tspan x="139.6" textLength="6.7" lengthAdjust="spacingAndGlyphs">+</tspan> <tspan x="149.9" textLength="23.4" lengthAdjust="spacingAndGlyphs">Hard</tspan> <tspan x="176.4" textLength="65.4" lengthAdjust="spacingAndGlyphs">Thresholding</tspan></text>
<path d="M67.8 355.4H78.3M86.3 355.4H97.2" stroke="#262626" fill="none"/>
<path d="M84.6 351.6L88.55 358H80.65Z" fill="none" stroke="#262626"/>
<text y="359.4" font-size="10" fill="#262626" font-family="Liberation Sans, Arial, sans-serif"><tspan x="104.7" textLength="31" lengthAdjust="spacingAndGlyphs">SPOET</tspan> <tspan x="139.6" textLength="6.7" lengthAdjust="spacingAndGlyphs">+</tspan> <tspan x="149.4" textLength="13" lengthAdjust="spacingAndGlyphs">AL</tspan> <tspan x="164.7" textLength="65.4" lengthAdjust="spacingAndGlyphs">Thresholding</tspan></text>
<path d="M67.8 368.3H78.3M86.3 368.3H97.2" stroke="#1fe01f" fill="none"/>
<path d="M81.5 368.3H87.7M84.6 365.2V371.4M82.35 366.05L86.85 370.55M82.35 370.55L86.85 366.05" fill="none" stroke="#1fe01f"/>
<text y="372.3" font-size="10" fill="#262626" font-family="Liberation Sans, Arial, sans-serif"><tspan x="104.7" textLength="31" lengthAdjust="spacingAndGlyphs">SPOET</tspan> <tspan x="139.6" textLength="6.7" lengthAdjust="spacingAndGlyphs">+</tspan> <tspan x="149.4" textLength="26.4" lengthAdjust="spacingAndGlyphs">SCAD</tspan> <tspan x="180" textLength="65.4" lengthAdjust="spacingAndGlyphs">Thresholding</tspan></text>
</g>
</svg>
</body></html>
